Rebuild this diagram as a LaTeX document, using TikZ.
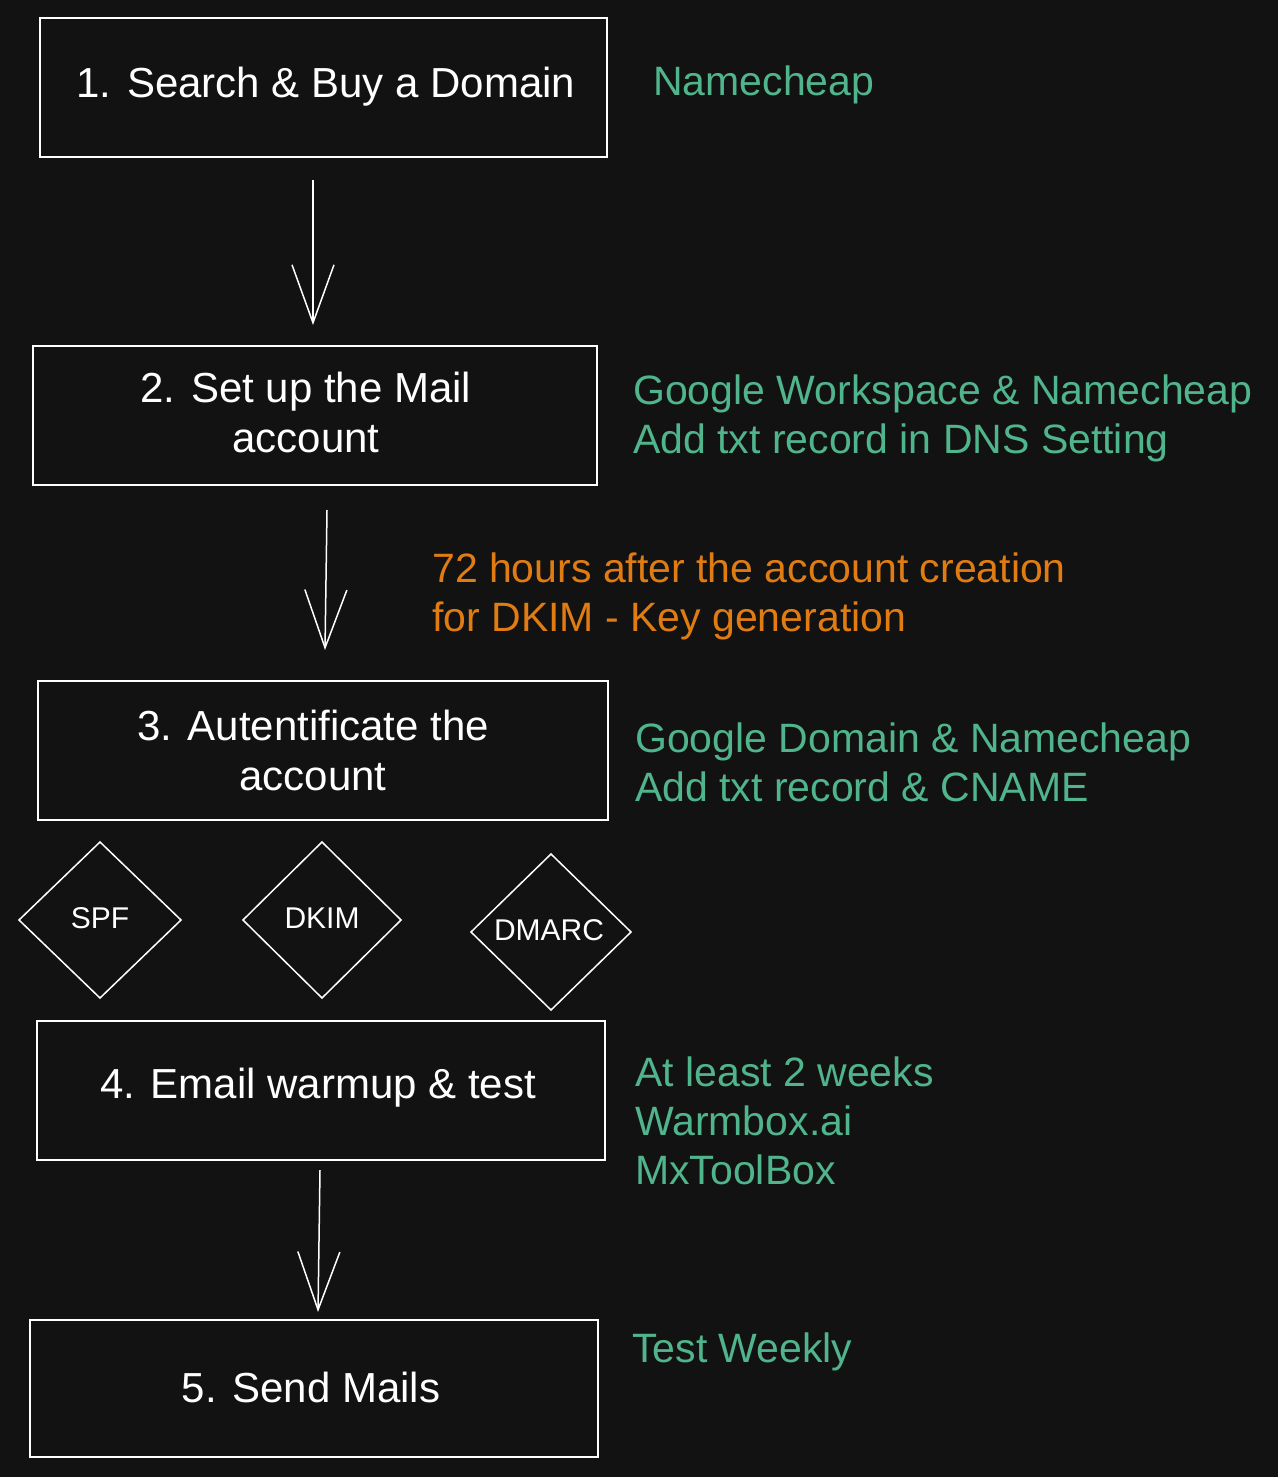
\documentclass[tikz,border=0pt]{standalone}
\usepackage{fontspec}
\usetikzlibrary{arrows.meta}
\setmainfont{Liberation Sans}
\begin{document}
\begin{tikzpicture}[x=1pt,y=-1pt,
 box/.style={draw=white,line width=1.5pt},
 arr/.style={draw=white,line width=1.5pt,-{Straight Barb[length=58pt,width=42pt]}},
 dia/.style={draw=white,line width=1.5pt},
 bt/.style={text=white,font=\fontsize{42}{50}\selectfont,align=center},
 dt/.style={text=white,font=\fontsize{30}{32}\selectfont},
 gt/.style={text={rgb,255:red,80;green,180;blue,140},font=\fontsize{41}{49}\selectfont,anchor=west,align=left,inner sep=0pt},
 ot/.style={text={rgb,255:red,224;green,124;blue,18},font=\fontsize{41}{49}\selectfont,anchor=west,align=left,inner sep=0pt}]
\useasboundingbox[fill={rgb,255:red,18;green,18;blue,18}] (0,0) rectangle (1278,1477);
\draw[box] (40,18) rectangle (607,157); \node[bt] (b1) at (326,87) {1. Search \& Buy a Domain};
\draw[box] (33,346) rectangle (597,485); \node[bt] (b2) at (306,412) {2. Set up the Mail\\account};
\draw[box] (38,681) rectangle (608,820); \node[bt] (b3) at (313,750) {3. Autentificate the\\account};
\draw[box] (37,1021) rectangle (605,1160); \node[bt] (b4) at (318,1088) {4. Email warmup \& test};
\draw[box] (30,1320) rectangle (598,1457); \node[bt] (b5) at (311,1387) {5. Send Mails};
\coordinate (a1s) at (313,180); \coordinate (a1e) at (313,325);
\coordinate (a2s) at (327,510); \coordinate (a2e) at (325,650);
\coordinate (a3s) at (320,1170); \coordinate (a3e) at (318,1312);
\draw[arr] (a1s) -- (a1e); \draw[arr] (a2s) -- (a2e); \draw[arr] (a3s) -- (a3e);
\draw[dia] (100,842) -- (181,920) -- (100,998) -- (19,920) -- cycle; \node[dt] (spf) at (100,918) {SPF};
\draw[dia] (322,842) -- (401,920) -- (322,998) -- (243,920) -- cycle; \node[dt] (dkim) at (322,918) {DKIM};
\draw[dia] (551,854) -- (631,932) -- (551,1010) -- (471,932) -- cycle; \node[dt] (dmarc) at (549,930) {DMARC};
\node[gt] (n1) at (653,85) {Namecheap};
\node[gt] (n2) at (633,418) {Google Workspace \& Namecheap\\Add txt record in DNS Setting};
\node[ot] (n3) at (432,596) {72 hours after the account creation\\for DKIM - Key generation};
\node[gt] (n4) at (635,762) {Google Domain \& Namecheap\\Add txt record \& CNAME};
\node[gt] (n5) at (635,1121) {At least 2 weeks\\Warmbox.ai\\MxToolBox};
\node[gt] (n6) at (632,1352) {Test Weekly};
\end{tikzpicture}
\end{document}
